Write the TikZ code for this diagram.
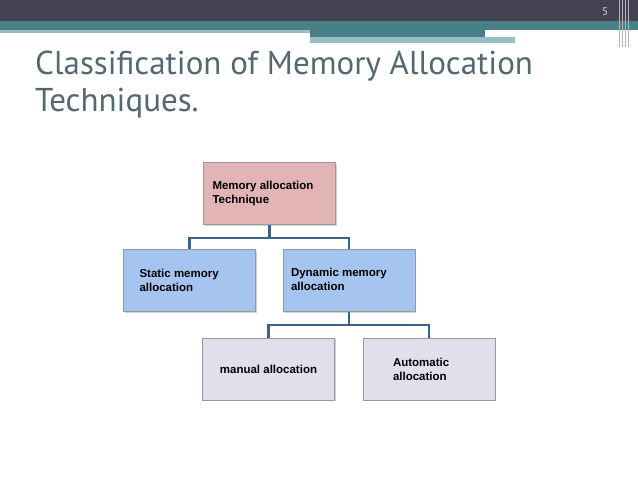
\documentclass[tikz,border=0pt]{standalone}
\usepackage{fontspec}
\setmainfont{Liberation Sans}
\newfontfamily\titlefont{PT Sans}
\usetikzlibrary{positioning,shadows}
\definecolor{barColor}{RGB}{66,66,82}
\definecolor{tealColor}{RGB}{72,128,134}
\definecolor{lightTeal}{RGB}{152,190,196}
\definecolor{titleColor}{RGB}{84,104,114}
\definecolor{rootFill}{RGB}{226,180,182}
\definecolor{blueFill}{RGB}{166,196,240}
\definecolor{lilacFill}{RGB}{226,222,236}
\definecolor{linkColor}{RGB}{58,98,138}
\tikzset{
  box/.style={draw=gray!80,line width=0.7pt,minimum width=132pt,minimum height=62pt,
    inner sep=0pt,drop shadow={shadow xshift=1pt,shadow yshift=-1.5pt,opacity=0.35},
    font=\bfseries\fontsize{11.5}{14}\selectfont},
  link/.style={draw=linkColor,line width=2.8pt}
}
\begin{document}
\begin{tikzpicture}[x=1pt,y=1pt]
\path[use as bounding box,fill=white] (0,0) rectangle (638,479);
% top bar
\fill[barColor] (0,458) rectangle (638,479);
\fill[tealColor] (0,449) rectangle (638,458);
\fill[lightTeal] (0,446) rectangle (310,449);
\fill[tealColor] (310,442) rectangle (485,449);
\fill[lightTeal] (310,436) rectangle (515,442);
\foreach \x in {619,622,625,628} \draw[gray!60,line width=0.5pt] (\x,432) -- (\x,479);
\node[text=gray!30,font=\titlefont\fontsize{11}{11}\selectfont,anchor=base] (pagenum) at (605,463) {5};
% title
\node[text=titleColor,font=\titlefont\fontsize{33}{37}\selectfont,anchor=base west,align=left,inner sep=0pt] (title) at (35,367)
  {Classification of Memory Allocation\\Techniques.};
% boxes
\node[box,fill=rootFill] (root) at (269.5,285.5) {\parbox{114pt}{Memory allocation\\Technique}};
\node[box,fill=blueFill] (static) at (189.5,198.5) {\parbox{100pt}{Static memory\\allocation}};
\node[box,fill=blueFill] (dynamic) at (349,198.5) {\parbox{116pt}{Dynamic memory\\allocation\vphantom{y}}};
\node[box,fill=lilacFill] (manual) at (268.5,110) {manual allocation};
\node[box,fill=lilacFill] (auto) at (429,110) {\parbox{72pt}{Automatic\\allocation}};
% connectors
\coordinate (j1) at (root.south |- 0,241);
\coordinate (j2) at (dynamic.south |- 0,154);
\path[link] (root.south) -- (j1);
\path[link] (static.north) |- (j1) -| (dynamic.north);
\path[link] (dynamic.south) -- (j2);
\path[link] (manual.north) |- (j2) -| (auto.north);
\end{tikzpicture}
\end{document}
